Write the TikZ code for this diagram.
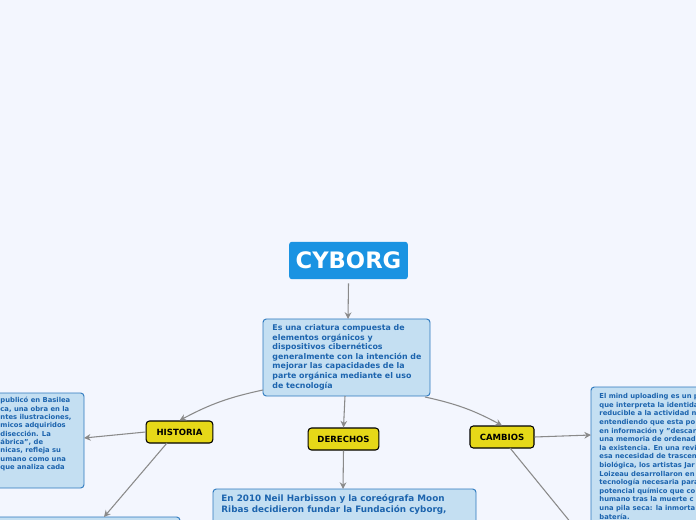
\documentclass[tikz,border=0pt]{standalone}
\usepackage{fontspec}
\setmainfont{DejaVu Sans}
\usetikzlibrary{arrows.meta}
\definecolor{bg}{HTML}{F3F6FE}
\definecolor{tb}{HTML}{C4DFF2}
\definecolor{tbd}{HTML}{2C78BE}
\definecolor{tx}{HTML}{1C64AE}
\definecolor{yel}{HTML}{E6D818}
\definecolor{title}{HTML}{1A93E2}
\definecolor{ln}{HTML}{8A8A8A}
\tikzset{
  txtbox/.style={draw=tbd,fill=tb,rounded corners=2.5pt,line width=0.7pt,font=\bfseries,text=tx,align=left,anchor=north west,inner sep=0pt},
  topic/.style={draw=black,fill=yel,rounded corners=2.5pt,line width=0.8pt,font=\bfseries\fontsize{6.4pt}{7pt}\selectfont,minimum height=16.5pt,inner sep=0pt},
  conn/.style={draw=ln,line width=0.8pt,-{Stealth[length=5pt,width=5pt]}}
}
\begin{document}
\begin{tikzpicture}[x=0.75pt,y=-0.75pt]
\fill[bg] (0,0) rectangle (696,520);
\useasboundingbox (0,0) rectangle (696,520);
\clip (0,0) rectangle (696,520);
% title
\node[fill=title,rounded corners=2pt,text=white,font=\bfseries\fontsize{17pt}{20pt}\selectfont,minimum width=89pt,minimum height=28pt,inner sep=0pt] (cy) at (348.5,260.5) {CYBORG};
% main
\draw[txtbox] (263,319) rectangle (430,396);
\node[txtbox,draw=none,fill=none,font=\bfseries\fontsize{5.9pt}{7.2pt}\selectfont] (m) at (272,324) {Es una criatura compuesta de\\elementos orgánicos y\\dispositivos cibernéticos\\generalmente con la intención de\\mejorar las capacidades de la\\parte orgánica mediante el uso\\de tecnología};
\coordinate (mt) at (348,319);
% topics
\node[topic,minimum width=50pt] (h) at (179.5,432) {HISTORIA};
\node[topic,minimum width=53pt] (d) at (343.5,439) {DERECHOS};
\node[topic,minimum width=48pt] (c) at (502,437) {CAMBIOS};
% left box
\draw[txtbox] (-30,393) rectangle (84,488);
\node[txtbox,draw=none,fill=none,font=\bfseries\fontsize{5.1pt}{6.25pt}\selectfont] (lt) at (0,397) {publicó en Basilea\\ca, una obra en la\\ntes ilustraciones,\\micos adquiridos\\ disección. La\\ábrica", de\\nicas, refleja su\\umano como una\\ que analiza cada};
\coordinate (lb) at (84,438);
% bottom left box
\draw[txtbox] (-30,517) rectangle (180,560);
\coordinate (blb) at (104,517);
% bottom center
\draw[txtbox] (213,489) rectangle (476,560);
\node[txtbox,draw=none,fill=none,font=\bfseries\fontsize{6.6pt}{8pt}\selectfont] (bt) at (221,494) {En 2010 Neil Harbisson y la coreógrafa Moon\\Ribas decidieron fundar la Fundación cyborg,};
\coordinate (bct) at (343,489);
% right box
\draw[txtbox] (591,387) rectangle (760,560);
\node[txtbox,draw=none,fill=none,font=\bfseries\fontsize{5.1pt}{6.45pt}\selectfont] (rt) at (599,393) {El mind uploading es un p\\que interpreta la identida\\reducible a la actividad n\\entendiendo que esta po\\en información y "descar\\una memoria de ordenad\\la existencia. En una revi\\esa necesidad de trascen\\biológica, los artistas Jar\\Loizeau desarrollaron en\\tecnología necesaria para\\potencial químico que co\\humano tras la muerte c\\una pila seca: la inmorta\\batería.};
\coordinate (rb) at (591,435);
\coordinate (brend) at (585,540);
% connectors
\draw[conn] (cy.south) ++(0,4) -- (mt);
\draw[conn] (263,390) to[bend right=8] (h.north);
\draw[conn] (345,396) -- (d.north);
\draw[conn] (425,397) to[bend left=8] (c.north);
\draw[conn] (h.west) -- (lb);
\draw[conn] (167,443) -- (blb);
\draw[conn] (d.south) -- (bct);
\draw[conn] (c.east) -- (rb);
\draw[ln,line width=0.8pt] (510,448) -- (brend);
\end{tikzpicture}
\end{document}
